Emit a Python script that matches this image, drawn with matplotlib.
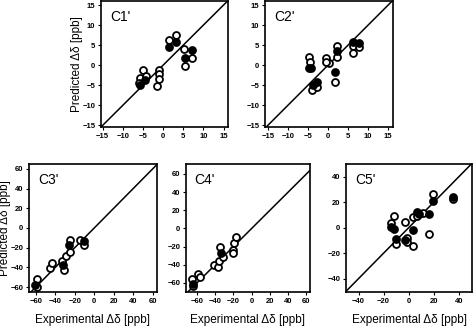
import matplotlib
matplotlib.use("Agg")
import matplotlib.pyplot as plt
import numpy as np

plt.rcParams['font.family'] = ['Liberation Sans', 'DejaVu Sans']

# ---- data: (experimental, predicted) ----
c1_open_x = [1.4, 3.2, 5.1, 5.5, 7.2, -4.9, -5.7, -4.2, -6.0, -1.1, -1.0, -1.0, -1.4]
c1_open_y = [6.2, 7.6, 4.1, -0.3, 1.8, -1.1, -3.1, -2.6, -4.4, -1.2, -2.3, -3.5, -5.3]
c1_fill_x = [1.45, 3.3, 5.5, 7.2, -5.8, -4.4]
c1_fill_y = [4.6, 5.9, 1.9, 3.8, -5.0, -3.6]

c2_open_x = [-4.8, -4.4, -3.9, -2.7, -0.4, 0.3, -0.5, 1.7, 2.3, 2.2, 6.2, 6.2, 7.8]
c2_open_y = [2.0, 0.9, -6.3, -5.5, 1.9, 0.5, 0.9, -4.1, 4.8, 2.0, 4.8, 3.0, 4.5]
c2_fill_x = [-4.8, -4.3, -2.8, -3.7, 1.7, 2.2, 6.2, 7.7]
c2_fill_y = [-0.8, -0.6, -4.2, -4.9, -1.7, 3.6, 5.7, 5.6]

c3_open_x = [-59.0, -58.3, -45.5, -43.4, -33.1, -31.4, -28.6, -24.8, -25.2, -14.8, -10.3]
c3_open_y = [-51.5, -60.0, -40.3, -35.2, -33.8, -43.0, -28.7, -11.7, -24.3, -11.7, -17.5]
c3_fill_x = [-60.7, -31.7, -25.5, -10.3]
c3_fill_y = [-58.3, -37.2, -17.5, -13.0]

c4_open_x = [-65.5, -64.4, -58.9, -56.7, -41.3, -36.6, -35.9, -35.1, -31.5, -20.8, -20.5, -19.8, -17.2]
c4_open_y = [-55.6, -63.7, -50.4, -53.7, -40.8, -43.0, -36.0, -20.2, -31.3, -23.9, -26.9, -15.8, -9.9]
c4_fill_x = [-64.4, -34.0]
c4_fill_y = [-60.7, -26.9]

c5_open_x = [-11.5, -14.1, -10.2, -3.0, -1.7, -1.7, 3.3, 3.8, 7.0, 11.8, 16.5, 19.7, 35.6]
c5_open_y = [9.3, 3.8, -13.0, 4.6, -8.3, -11.2, -14.3, 8.5, 9.3, 11.7, -4.6, 26.1, 22.2]
c5_fill_x = [-14.1, -12.1, -10.2, -3.3, 3.3, 6.5, 8.6, 16.5, 19.7, 35.6]
c5_fill_y = [0.6, -1.4, -9.1, -9.8, -2.0, 12.4, 10.6, 10.4, 20.9, 24.3]

panels = [
    ("C1'", c1_open_x, c1_open_y, c1_fill_x, c1_fill_y, (-15.4, 16.1), (-15.4, 16.0), [-15, -10, -5, 0, 5, 10, 15]),
    ("C2'", c2_open_x, c2_open_y, c2_fill_x, c2_fill_y, (-15.7, 16.2), (-15.4, 16.0), [-15, -10, -5, 0, 5, 10, 15]),
    ("C3'", c3_open_x, c3_open_y, c3_fill_x, c3_fill_y, (-67, 64.5), (-65, 65), [-60, -40, -20, 0, 20, 40, 60]),
    ("C4'", c4_open_x, c4_open_y, c4_fill_x, c4_fill_y, (-72, 64), (-70, 71), [-60, -40, -20, 0, 20, 40, 60]),
    ("C5'", c5_open_x, c5_open_y, c5_fill_x, c5_fill_y, (-50, 50.5), (-50.5, 50), [-40, -20, 0, 20, 40]),
]

W, H = 474, 326
boxes = [  # left, top, right, bottom in pixels
    (101, 1, 228, 127),
    (265, 1, 393, 127),
    (29, 164, 157, 292),
    (186, 164, 310, 292),
    (346, 164, 472, 292),
]

fig = plt.figure(figsize=(W / 100, H / 100), dpi=100)
for i, ((name, ox, oy, fx, fy, xl, yl, ticks), (l, t, r, b)) in enumerate(zip(panels, boxes)):
    ax = fig.add_axes([l / W, 1 - b / H, (r - l) / W, (b - t) / H])
    lo = min(xl[0], yl[0]) - 10
    hi = max(xl[1], yl[1]) + 10
    ax.plot([lo, hi], [lo, hi], color='black', lw=1.1, zorder=1)
    ax.plot(ox, oy, 'o', ms=5, mfc='white', mec='black', mew=1.3, ls='none', zorder=2)
    ax.plot(fx, fy, 'o', ms=5, mfc='black', mec='black', mew=1.3, ls='none', zorder=3)
    ax.set_xlim(*xl)
    ax.set_ylim(*yl)
    ax.set_xticks(ticks)
    ax.set_yticks(ticks)
    ax.tick_params(labelsize=5.5, length=2, width=0.8, pad=2)
    for lab in ax.get_xticklabels() + ax.get_yticklabels():
        lab.set_fontweight('bold')
    for sp in ax.spines.values():
        sp.set_linewidth(1.2)
    ax.text(0.07, 0.93, name, transform=ax.transAxes, fontsize=10, va='top', ha='left')
    if i in (0, 2):
        ax.set_ylabel("Predicted \u0394\u03b4 [ppb]", fontsize=8.5)
        ax.yaxis.set_label_coords(-0.14, 0.5)
    if i >= 2:
        ax.set_xlabel("Experimental \u0394\u03b4 [ppb]", fontsize=8.5, labelpad=7)

fig.savefig("out.png", dpi=100)
